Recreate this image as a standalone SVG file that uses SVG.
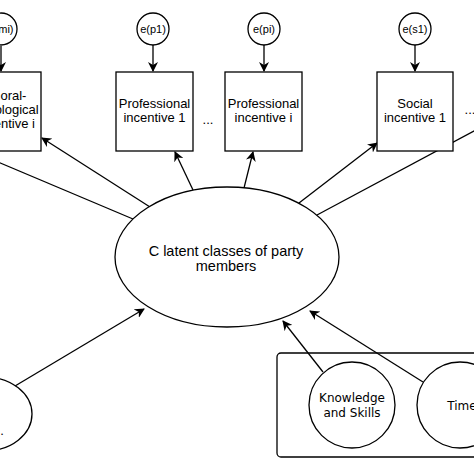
<svg xmlns="http://www.w3.org/2000/svg" width="474" height="474" viewBox="0 0 474 474">
<defs>
<marker id="ah" viewBox="0 0 10 10" refX="9" refY="5" markerWidth="10" markerHeight="10" markerUnits="userSpaceOnUse" orient="auto">
<path d="M0,0 L10,5 L0,10 L3,5 Z" fill="#000"/>
</marker>
<style>
.sh{fill:#fff;stroke:#000;stroke-width:1.3}
.ln{fill:none;stroke:#000;stroke-width:1.3}
.ar{fill:none;stroke:#000;stroke-width:1.3;marker-end:url(#ah)}
.t{font-family:"Liberation Sans",Arial,sans-serif;font-size:13px;text-anchor:middle;fill:#000}
.te{font-family:"Liberation Sans",Arial,sans-serif;font-size:11px;text-anchor:middle;fill:#000}
.tm{font-family:"Liberation Sans",Arial,sans-serif;font-size:14.5px;text-anchor:middle;fill:#000}
.td{font-family:"DejaVu Sans",sans-serif;font-size:12px;text-anchor:middle;fill:#000}
</style>
</defs>
<rect width="474" height="474" fill="#fff"/>
<g id="connectors">
<line class="ar" x1="1" y1="46" x2="1" y2="71"/>
<line class="ar" x1="153" y1="45" x2="153" y2="71"/>
<line class="ar" x1="264" y1="45" x2="264" y2="71"/>
<line class="ar" x1="415" y1="45" x2="415" y2="71"/>
<line class="ar" x1="150" y1="207" x2="42" y2="138"/>
<line class="ln" x1="133" y1="219" x2="-2" y2="162"/>
<line class="ar" x1="193" y1="190" x2="175" y2="152"/>
<line class="ar" x1="244" y1="188" x2="253" y2="152"/>
<line class="ar" x1="299" y1="203" x2="377" y2="143"/>
<line class="ln" x1="317" y1="215" x2="476" y2="130"/>
<line class="ar" x1="15" y1="386" x2="144" y2="309"/>
<line class="ar" x1="323" y1="372" x2="283" y2="321"/>
<line class="ar" x1="423" y1="382" x2="310" y2="311"/>
</g>
<g id="e-mi"><circle class="sh" cx="1" cy="29" r="16"/><text class="te" x="1" y="33">e(mi)</text></g>
<g id="e-p1"><circle class="sh" cx="153" cy="29" r="16"/><text class="te" x="153" y="33">e(p1)</text></g>
<g id="e-pi"><circle class="sh" cx="264" cy="29" r="16"/><text class="te" x="264" y="33">e(pi)</text></g>
<g id="e-s1"><circle class="sh" cx="415" cy="29" r="16"/><text class="te" x="415" y="33">e(s1)</text></g>
<g id="moral-ideological"><rect class="sh" x="-36" y="72" width="77" height="79"/>
<text class="t" x="8" y="100">Moral-</text><text class="t" x="8" y="114">ideological</text><text class="t" x="6" y="128">incentive i</text></g>
<g id="professional-1"><rect class="sh" x="116" y="72" width="77" height="79"/>
<text class="t" x="154.5" y="108">Professional</text><text class="t" x="154.5" y="122">incentive 1</text></g>
<text class="t" x="208" y="124">...</text>
<g id="professional-i"><rect class="sh" x="225" y="72" width="77" height="79"/>
<text class="t" x="263.5" y="108">Professional</text><text class="t" x="263.5" y="122">incentive i</text></g>
<g id="social-1"><rect class="sh" x="377" y="72" width="76" height="79"/>
<text class="t" x="415" y="108">Social</text><text class="t" x="415" y="122">incentive 1</text></g>
<text class="t" x="470" y="114">...</text>
<g id="left-ellipse"><ellipse class="sh" cx="-15" cy="414" rx="47" ry="37"/><text class="t" x="2" y="435">.</text></g>
<g id="latent-classes"><ellipse class="sh" cx="227" cy="257" rx="112" ry="70"/>
<text class="tm" x="226" y="256">C latent classes of party</text><text class="tm" x="226" y="271">members</text></g>
<g id="group-box"><rect class="ln" x="277" y="353" width="210" height="104" rx="4"/></g>
<g id="knowledge"><circle class="sh" cx="352" cy="405" r="43"/>
<text class="td" x="352" y="402">Knowledge</text><text class="td" x="352" y="417">and Skills</text></g>
<g id="time"><circle class="sh" cx="460" cy="405" r="43"/><text class="td" x="462" y="410">Time</text></g>
</svg>
